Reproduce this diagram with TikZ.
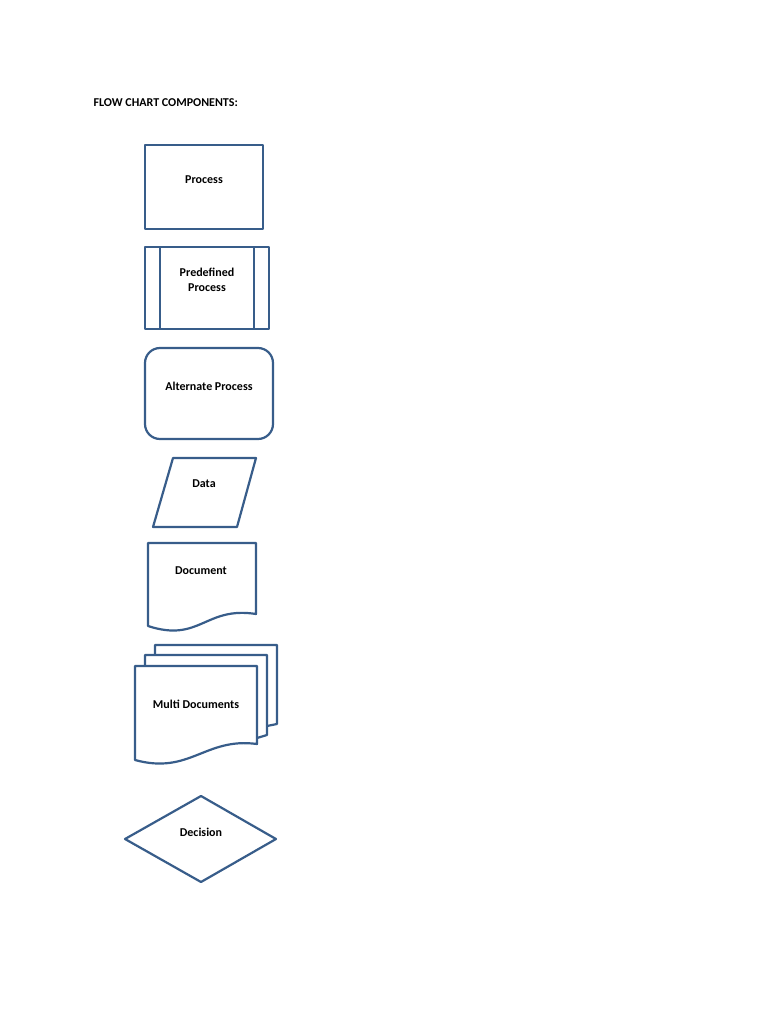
\documentclass[tikz,border=0pt]{standalone}
\usepackage{fontspec}
\setmainfont{Carlito}
\definecolor{shp}{RGB}{56,93,138}
\begin{document}
\begin{tikzpicture}[x=1pt,y=-1pt,
  fcshape/.style={draw=shp,line width=2.2pt,fill=white,line join=round},
  lbl/.style={font=\bfseries\fontsize{12}{15}\selectfont,align=center}]
\useasboundingbox (0,0) rectangle (768,1024);
\node[lbl,anchor=west] (title) at (90,103) {FLOW CHART COMPONENTS:};
% Process
\draw[fcshape] (145,145) rectangle (263,229);
\node[lbl] (process) at (204,180) {Process};
% Predefined
\draw[fcshape] (145,247) rectangle (269,329);
\draw[fcshape] (160,247) -- (160,329) (254,247) -- (254,329);
\node[lbl] (predef) at (207,280) {Predefined\\Process};
% Alternate
\draw[fcshape,rounded corners=15pt] (145,348) rectangle (273,439);
\node[lbl] (alt) at (209,386) {Alternate Process};
% Data
\draw[fcshape] (173,458) -- (256,458) -- (237,527) -- (153,527) -- cycle;
\node[lbl] (data) at (204,484) {Data};
% Document
\draw[fcshape] (148,543) -- (256,543) -- (256,614) .. controls (205,606) and (200,643) .. (148,626) -- cycle;
\node[lbl] (doc) at (201,571) {Document};
% Multi documents
\draw[fcshape] (155,656) -- (155,645) -- (277,645) -- (277,724) -- (267,726);
\draw[fcshape] (145,666) -- (145,655) -- (267,655) -- (267,735) -- (257,738);
\draw[fcshape] (135,666) -- (257,666) -- (257,744) .. controls (205,737) and (190,775) .. (135,760) -- cycle;
\node[lbl] (multi) at (196,704) {Multi Documents};
% Decision
\draw[fcshape] (125,839) -- (201,796) -- (276,839) -- (201,882) -- cycle;
\node[lbl] (dec) at (201,832) {Decision};
\end{tikzpicture}
\end{document}
